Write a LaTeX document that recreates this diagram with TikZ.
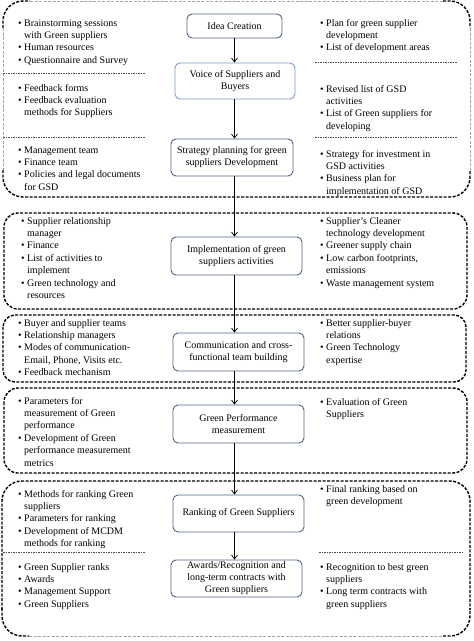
\documentclass[tikz,border=0pt]{standalone}
\usepackage{fontspec}
\setmainfont{Liberation Serif}
\usetikzlibrary{arrows.meta}
\definecolor{boxc}{RGB}{80,100,135}
\definecolor{boxl}{RGB}{125,155,205}
\newcommand\bind{\phantom{\textbullet\ }}
\newcommand\bl{\textbullet\ }
\begin{document}
\begin{tikzpicture}[x=1pt,y=-1pt,
 framek/.style={line width=1.4pt, dash pattern=on 3pt off 1.5pt, black},
 frameg/.style={line width=1pt, dash pattern=on 3pt off 1.5pt, black!35},
 sepline/.style={line width=0.7pt, dash pattern=on 1.5pt off 1pt, black!70},
 flowbox/.style={draw=boxc, line width=0.9pt, rounded corners=5pt, fill=white, align=center, font=\fontsize{10}{12}\selectfont, inner sep=1pt},
 lst/.style={anchor=base west, inner sep=0pt, font=\fontsize{10}{12.4}\selectfont},
 arr/.style={-{Straight Barb[length=4pt,width=6pt]}, line width=0.7pt}]
\useasboundingbox (0,0) rectangle (474,641);

% ---------- frames ----------
% group 1
\draw[framek, rounded corners=20pt] (3,170) -- (3,197) -- (470,197) -- (470,170);
\draw[framek, rounded corners=20pt] (3,28) -- (3,1) -- (30,1);
\draw[framek, rounded corners=20pt] (443,1) -- (470,1) -- (470,28);
\draw[frameg] (30,1) -- (443,1);
\draw[frameg] (3,28) -- (3,170);
\draw[frameg] (470,28) -- (470,170);
% groups 2-4
\draw[framek, rounded corners=14pt] (4,213) rectangle (467,309);
\draw[framek, rounded corners=12pt] (3,315) rectangle (466,382);
\draw[framek, rounded corners=14pt] (4,388) rectangle (467,473);
% group 5
\draw[framek, rounded corners=20pt] (2,610) -- (2,481) -- (470,481) -- (470,610);
\draw[framek, rounded corners=20pt] (2,608) -- (2,636) -- (29,636);
\draw[framek, rounded corners=20pt] (443,636) -- (470,636) -- (470,608);
\draw[frameg] (29,636) -- (443,636);

% separators
\draw[sepline] (3,73) -- (145,73);
\draw[sepline] (3,137) -- (145,137);
\draw[sepline] (315,62) -- (457,62);
\draw[sepline] (315,137) -- (457,137);
\draw[sepline] (3,552) -- (145,552);
\draw[sepline] (319,552) -- (462,552);

% ---------- flow boxes ----------
\node[flowbox, minimum width=95pt, minimum height=24pt] (b1) at (234.5,26) {Idea Creation};
\node[flowbox, draw=boxl, minimum width=120pt, minimum height=36pt] (b2) at (235,81) {Voice of Suppliers and\\Buyers};
\node[flowbox, minimum width=122pt, minimum height=37pt] (b3) at (232,157.5) {Strategy planning for green\\suppliers Development};
\node[flowbox, minimum width=131pt, minimum height=38pt] (b4) at (236.5,256) {Implementation of green\\suppliers activities};
\node[flowbox, minimum width=131pt, minimum height=38pt] (b5) at (238.5,352) {Communication and cross-\\functional team building};
\node[flowbox, minimum width=131pt, minimum height=38pt] (b6) at (238.5,424) {Green Performance\\measurement};
\node[flowbox, minimum width=131pt, minimum height=37pt] (b7) at (238.5,513.5) {Ranking of Green Suppliers};
\node[flowbox, minimum width=131pt, minimum height=37pt] (b8) at (236.5,578.5) {Awards/Recognition and\\long-term contracts with\\Green suppliers};

\coordinate (ax) at (234.5,0);
\draw[arr] (b1.south -| ax) -- (b2.north -| ax);
\draw[arr] (b2.south -| ax) -- (b3.north -| ax);
\draw[arr] (b3.south -| ax) -- (b4.north -| ax);
\draw[arr] (b4.south -| ax) -- (b5.north -| ax);
\draw[arr] (b5.south -| ax) -- (b6.north -| ax);
\draw[arr] (b6.south -| ax) -- (b7.north -| ax);
\draw[arr] (b7.south -| ax) -- (b8.north -| ax);

% ---------- lists ----------
\node[lst] (l1a) at (18,26) {\begin{tabular}[t]{@{}l@{}}\bl Brainstorming sessions\\ \bind with Green suppliers\\ \bl Human resources\\ \bl Questionnaire and Survey\end{tabular}};
\node[lst] (l1b) at (18,91) {\begin{tabular}[t]{@{}l@{}}\bl Feedback forms\\ \bl Feedback evaluation\\ \bind methods for Suppliers\end{tabular}};
\node[lst] (l1c) at (18,153) {\begin{tabular}[t]{@{}l@{}}\bl Management team\\ \bl Finance team\\ \bl Policies and legal documents\\ \bind for GSD\end{tabular}};

\node[lst] (r1a) at (320,26) {\begin{tabular}[t]{@{}l@{}}\bl Plan for green supplier\\ \bind development\\ \bl List of development areas\end{tabular}};
\node[lst] (r1b) at (320,92) {\begin{tabular}[t]{@{}l@{}}\bl Revised list of GSD\\ \bind activities\\ \bl List of Green suppliers for\\ \bind developing\end{tabular}};
\node[lst] (r1c) at (320,157) {\begin{tabular}[t]{@{}l@{}}\bl Strategy for investment in\\ \bind GSD activities\\ \bl Business plan for\\ \bind implementation of GSD\end{tabular}};

\node[lst] (l2) at (21,224) {\begin{tabular}[t]{@{}l@{}}\bl Supplier relationship\\ \bind manager\\ \bl Finance\\ \bl List of activities to\\ \bind implement\\ \bl Green technology and\\ \bind resources\end{tabular}};
\node[lst] (r2) at (320,224) {\begin{tabular}[t]{@{}l@{}}\bl Supplier's Cleaner\\ \bind technology development\\ \bl Greener supply chain\\ \bl Low carbon footprints,\\ \bind emissions\\ \bl Waste management system\end{tabular}};

\node[lst] (l3) at (18,326) {\begin{tabular}[t]{@{}l@{}}\bl Buyer and supplier teams\\ \bl Relationship managers\\ \bl Modes of communication-\\ \bind Email, Phone, Visits etc.\\ \bl Feedback mechanism\end{tabular}};
\node[lst] (r3) at (320,326) {\begin{tabular}[t]{@{}l@{}}\bl Better supplier-buyer\\ \bind relations\\ \bl Green Technology\\ \bind expertise\end{tabular}};

\node[lst] (l4) at (18,404) {\begin{tabular}[t]{@{}l@{}}\bl Parameters for\\ \bind measurement of Green\\ \bind performance\\ \bl Development of Green\\ \bind performance measurement\\ \bind metrics\end{tabular}};
\node[lst] (r4) at (320,405) {\begin{tabular}[t]{@{}l@{}}\bl Evaluation of Green\\ \bind Suppliers\end{tabular}};

\node[lst] (l5a) at (18,497) {\begin{tabular}[t]{@{}l@{}}\bl Methods for ranking Green\\ \bind suppliers\\ \bl Parameters for ranking\\ \bl Development of MCDM\\ \bind methods for ranking\end{tabular}};
\node[lst] (l5b) at (18,570) {\begin{tabular}[t]{@{}l@{}}\bl Green Supplier ranks\\ \bl Awards\\ \bl Management Support\\ \bl Green Suppliers\end{tabular}};
\node[lst] (r5a) at (320,492) {\begin{tabular}[t]{@{}l@{}}\bl Final ranking based on\\ \bind green development\end{tabular}};
\node[lst] (r5b) at (320,570) {\begin{tabular}[t]{@{}l@{}}\bl Recognition to best green\\ \bind suppliers\\ \bl Long term contracts with\\ \bind green suppliers\end{tabular}};
\end{tikzpicture}
\end{document}
